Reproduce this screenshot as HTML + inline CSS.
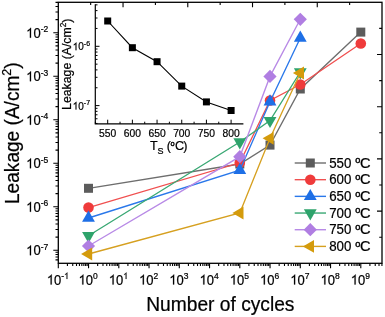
<!DOCTYPE html>
<html><head><meta charset="utf-8"><style>
html,body{margin:0;padding:0;background:#fff;}
svg{display:block;will-change:transform;font-family:"Liberation Sans",sans-serif;}
text{stroke:#000;stroke-width:0.22px;}
</style></head><body>
<svg width="385" height="317" viewBox="0 0 385 317">
<defs><clipPath id="clip"><rect x="58.30" y="2.30" width="323.70" height="261.00"/></clipPath></defs>
<rect x="58.30" y="2.30" width="323.70" height="261.00" fill="none" stroke="#000" stroke-width="1.30"/>
<path d="M58.30 263.30v5.00M67.41 263.30v2.80M72.73 263.30v2.80M76.51 263.30v2.80M79.44 263.30v2.80M81.84 263.30v2.80M83.86 263.30v2.80M85.62 263.30v2.80M87.17 263.30v2.80M88.55 263.30v5.00M97.66 263.30v2.80M102.98 263.30v2.80M106.76 263.30v2.80M109.69 263.30v2.80M112.09 263.30v2.80M114.11 263.30v2.80M115.87 263.30v2.80M117.42 263.30v2.80M118.80 263.30v5.00M127.91 263.30v2.80M133.23 263.30v2.80M137.01 263.30v2.80M139.94 263.30v2.80M142.34 263.30v2.80M144.36 263.30v2.80M146.12 263.30v2.80M147.67 263.30v2.80M149.05 263.30v5.00M158.16 263.30v2.80M163.48 263.30v2.80M167.26 263.30v2.80M170.19 263.30v2.80M172.59 263.30v2.80M174.61 263.30v2.80M176.37 263.30v2.80M177.92 263.30v2.80M179.30 263.30v5.00M188.41 263.30v2.80M193.73 263.30v2.80M197.51 263.30v2.80M200.44 263.30v2.80M202.84 263.30v2.80M204.86 263.30v2.80M206.62 263.30v2.80M208.17 263.30v2.80M209.55 263.30v5.00M218.66 263.30v2.80M223.98 263.30v2.80M227.76 263.30v2.80M230.69 263.30v2.80M233.09 263.30v2.80M235.11 263.30v2.80M236.87 263.30v2.80M238.42 263.30v2.80M239.80 263.30v5.00M248.91 263.30v2.80M254.23 263.30v2.80M258.01 263.30v2.80M260.94 263.30v2.80M263.34 263.30v2.80M265.36 263.30v2.80M267.12 263.30v2.80M268.67 263.30v2.80M270.05 263.30v5.00M279.16 263.30v2.80M284.48 263.30v2.80M288.26 263.30v2.80M291.19 263.30v2.80M293.59 263.30v2.80M295.61 263.30v2.80M297.37 263.30v2.80M298.92 263.30v2.80M300.30 263.30v5.00M309.41 263.30v2.80M314.73 263.30v2.80M318.51 263.30v2.80M321.44 263.30v2.80M323.84 263.30v2.80M325.86 263.30v2.80M327.62 263.30v2.80M329.17 263.30v2.80M330.55 263.30v5.00M339.66 263.30v2.80M344.98 263.30v2.80M348.76 263.30v2.80M351.69 263.30v2.80M354.09 263.30v2.80M356.11 263.30v2.80M357.87 263.30v2.80M359.42 263.30v2.80M360.80 263.30v5.00M369.91 263.30v2.80M375.23 263.30v2.80M379.01 263.30v2.80M381.94 263.30v2.80M58.30 259.90h-2.80M58.30 256.99h-2.80M58.30 254.47h-2.80M58.30 252.24h-2.80M58.30 250.25h-5.00M58.30 237.16h-2.80M58.30 229.50h-2.80M58.30 224.06h-2.80M58.30 219.84h-2.80M58.30 216.40h-2.80M58.30 213.49h-2.80M58.30 210.97h-2.80M58.30 208.74h-2.80M58.30 206.75h-5.00M58.30 193.66h-2.80M58.30 186.00h-2.80M58.30 180.56h-2.80M58.30 176.34h-2.80M58.30 172.90h-2.80M58.30 169.99h-2.80M58.30 167.47h-2.80M58.30 165.24h-2.80M58.30 163.25h-5.00M58.30 150.16h-2.80M58.30 142.50h-2.80M58.30 137.06h-2.80M58.30 132.84h-2.80M58.30 129.40h-2.80M58.30 126.49h-2.80M58.30 123.97h-2.80M58.30 121.74h-2.80M58.30 119.75h-5.00M58.30 106.66h-2.80M58.30 99.00h-2.80M58.30 93.56h-2.80M58.30 89.34h-2.80M58.30 85.90h-2.80M58.30 82.99h-2.80M58.30 80.47h-2.80M58.30 78.24h-2.80M58.30 76.25h-5.00M58.30 63.16h-2.80M58.30 55.50h-2.80M58.30 50.06h-2.80M58.30 45.84h-2.80M58.30 42.40h-2.80M58.30 39.49h-2.80M58.30 36.97h-2.80M58.30 34.74h-2.80M58.30 32.75h-5.00M58.30 19.66h-2.80M58.30 12.00h-2.80M58.30 6.56h-2.80M58.30 2.34h-2.80M90.67 2.30v2.80M123.04 2.30v5.00M155.41 2.30v2.80M187.78 2.30v5.00M220.15 2.30v2.80M252.52 2.30v5.00M284.89 2.30v2.80M317.26 2.30v5.00M349.63 2.30v2.80M382.00 28.40h-2.80M382.00 54.50h-5.00M382.00 80.60h-2.80M382.00 106.70h-5.00M382.00 132.80h-2.80M382.00 158.90h-5.00M382.00 185.00h-2.80M382.00 211.10h-5.00M382.00 237.20h-2.80" stroke="#000" stroke-width="1.1" fill="none"/>
<g transform="translate(46.89,284.50) scale(1,1.070)"><path transform="translate(0.00,0.00) scale(13.000)" d="M0.3726,0L0.2847,0L0.2847,-0.560C0.232,-0.511 0.170,-0.474 0.1089,-0.4536L0.1089,-0.537C0.200,-0.580 0.290,-0.640 0.340,-0.716L0.3726,-0.716Z" stroke="#000" stroke-width="0.22" vector-effect="non-scaling-stroke"/><text x="7.23" y="0.00" font-size="13.00">0</text><text x="14.46" y="-5.10" font-size="8.50">-</text><path transform="translate(17.29,-5.10) scale(8.500)" d="M0.3726,0L0.2847,0L0.2847,-0.560C0.232,-0.511 0.170,-0.474 0.1089,-0.4536L0.1089,-0.537C0.200,-0.580 0.290,-0.640 0.340,-0.716L0.3726,-0.716Z" stroke="#000" stroke-width="0.22" vector-effect="non-scaling-stroke"/></g>
<g transform="translate(78.56,284.50) scale(1,1.070)"><path transform="translate(0.00,0.00) scale(13.000)" d="M0.3726,0L0.2847,0L0.2847,-0.560C0.232,-0.511 0.170,-0.474 0.1089,-0.4536L0.1089,-0.537C0.200,-0.580 0.290,-0.640 0.340,-0.716L0.3726,-0.716Z" stroke="#000" stroke-width="0.22" vector-effect="non-scaling-stroke"/><text x="7.23" y="0.00" font-size="13.00">0</text><text x="14.46" y="-5.10" font-size="8.50">0</text></g>
<g transform="translate(108.81,284.50) scale(1,1.070)"><path transform="translate(0.00,0.00) scale(13.000)" d="M0.3726,0L0.2847,0L0.2847,-0.560C0.232,-0.511 0.170,-0.474 0.1089,-0.4536L0.1089,-0.537C0.200,-0.580 0.290,-0.640 0.340,-0.716L0.3726,-0.716Z" stroke="#000" stroke-width="0.22" vector-effect="non-scaling-stroke"/><text x="7.23" y="0.00" font-size="13.00">0</text><path transform="translate(14.46,-5.10) scale(8.500)" d="M0.3726,0L0.2847,0L0.2847,-0.560C0.232,-0.511 0.170,-0.474 0.1089,-0.4536L0.1089,-0.537C0.200,-0.580 0.290,-0.640 0.340,-0.716L0.3726,-0.716Z" stroke="#000" stroke-width="0.22" vector-effect="non-scaling-stroke"/></g>
<g transform="translate(139.06,284.50) scale(1,1.070)"><path transform="translate(0.00,0.00) scale(13.000)" d="M0.3726,0L0.2847,0L0.2847,-0.560C0.232,-0.511 0.170,-0.474 0.1089,-0.4536L0.1089,-0.537C0.200,-0.580 0.290,-0.640 0.340,-0.716L0.3726,-0.716Z" stroke="#000" stroke-width="0.22" vector-effect="non-scaling-stroke"/><text x="7.23" y="0.00" font-size="13.00">0</text><text x="14.46" y="-5.10" font-size="8.50">2</text></g>
<g transform="translate(169.31,284.50) scale(1,1.070)"><path transform="translate(0.00,0.00) scale(13.000)" d="M0.3726,0L0.2847,0L0.2847,-0.560C0.232,-0.511 0.170,-0.474 0.1089,-0.4536L0.1089,-0.537C0.200,-0.580 0.290,-0.640 0.340,-0.716L0.3726,-0.716Z" stroke="#000" stroke-width="0.22" vector-effect="non-scaling-stroke"/><text x="7.23" y="0.00" font-size="13.00">0</text><text x="14.46" y="-5.10" font-size="8.50">3</text></g>
<g transform="translate(199.56,284.50) scale(1,1.070)"><path transform="translate(0.00,0.00) scale(13.000)" d="M0.3726,0L0.2847,0L0.2847,-0.560C0.232,-0.511 0.170,-0.474 0.1089,-0.4536L0.1089,-0.537C0.200,-0.580 0.290,-0.640 0.340,-0.716L0.3726,-0.716Z" stroke="#000" stroke-width="0.22" vector-effect="non-scaling-stroke"/><text x="7.23" y="0.00" font-size="13.00">0</text><text x="14.46" y="-5.10" font-size="8.50">4</text></g>
<g transform="translate(229.81,284.50) scale(1,1.070)"><path transform="translate(0.00,0.00) scale(13.000)" d="M0.3726,0L0.2847,0L0.2847,-0.560C0.232,-0.511 0.170,-0.474 0.1089,-0.4536L0.1089,-0.537C0.200,-0.580 0.290,-0.640 0.340,-0.716L0.3726,-0.716Z" stroke="#000" stroke-width="0.22" vector-effect="non-scaling-stroke"/><text x="7.23" y="0.00" font-size="13.00">0</text><text x="14.46" y="-5.10" font-size="8.50">5</text></g>
<g transform="translate(260.06,284.50) scale(1,1.070)"><path transform="translate(0.00,0.00) scale(13.000)" d="M0.3726,0L0.2847,0L0.2847,-0.560C0.232,-0.511 0.170,-0.474 0.1089,-0.4536L0.1089,-0.537C0.200,-0.580 0.290,-0.640 0.340,-0.716L0.3726,-0.716Z" stroke="#000" stroke-width="0.22" vector-effect="non-scaling-stroke"/><text x="7.23" y="0.00" font-size="13.00">0</text><text x="14.46" y="-5.10" font-size="8.50">6</text></g>
<g transform="translate(290.31,284.50) scale(1,1.070)"><path transform="translate(0.00,0.00) scale(13.000)" d="M0.3726,0L0.2847,0L0.2847,-0.560C0.232,-0.511 0.170,-0.474 0.1089,-0.4536L0.1089,-0.537C0.200,-0.580 0.290,-0.640 0.340,-0.716L0.3726,-0.716Z" stroke="#000" stroke-width="0.22" vector-effect="non-scaling-stroke"/><text x="7.23" y="0.00" font-size="13.00">0</text><text x="14.46" y="-5.10" font-size="8.50">7</text></g>
<g transform="translate(320.56,284.50) scale(1,1.070)"><path transform="translate(0.00,0.00) scale(13.000)" d="M0.3726,0L0.2847,0L0.2847,-0.560C0.232,-0.511 0.170,-0.474 0.1089,-0.4536L0.1089,-0.537C0.200,-0.580 0.290,-0.640 0.340,-0.716L0.3726,-0.716Z" stroke="#000" stroke-width="0.22" vector-effect="non-scaling-stroke"/><text x="7.23" y="0.00" font-size="13.00">0</text><text x="14.46" y="-5.10" font-size="8.50">8</text></g>
<g transform="translate(350.81,284.50) scale(1,1.070)"><path transform="translate(0.00,0.00) scale(13.000)" d="M0.3726,0L0.2847,0L0.2847,-0.560C0.232,-0.511 0.170,-0.474 0.1089,-0.4536L0.1089,-0.537C0.200,-0.580 0.290,-0.640 0.340,-0.716L0.3726,-0.716Z" stroke="#000" stroke-width="0.22" vector-effect="non-scaling-stroke"/><text x="7.23" y="0.00" font-size="13.00">0</text><text x="14.46" y="-5.10" font-size="8.50">9</text></g>
<g transform="translate(26.19,255.30) scale(1,1.070)"><path transform="translate(0.00,0.00) scale(13.000)" d="M0.3726,0L0.2847,0L0.2847,-0.560C0.232,-0.511 0.170,-0.474 0.1089,-0.4536L0.1089,-0.537C0.200,-0.580 0.290,-0.640 0.340,-0.716L0.3726,-0.716Z" stroke="#000" stroke-width="0.22" vector-effect="non-scaling-stroke"/><text x="7.23" y="0.00" font-size="13.00">0</text><text x="14.46" y="-5.10" font-size="8.50">-7</text></g>
<g transform="translate(26.19,211.80) scale(1,1.070)"><path transform="translate(0.00,0.00) scale(13.000)" d="M0.3726,0L0.2847,0L0.2847,-0.560C0.232,-0.511 0.170,-0.474 0.1089,-0.4536L0.1089,-0.537C0.200,-0.580 0.290,-0.640 0.340,-0.716L0.3726,-0.716Z" stroke="#000" stroke-width="0.22" vector-effect="non-scaling-stroke"/><text x="7.23" y="0.00" font-size="13.00">0</text><text x="14.46" y="-5.10" font-size="8.50">-6</text></g>
<g transform="translate(26.19,168.30) scale(1,1.070)"><path transform="translate(0.00,0.00) scale(13.000)" d="M0.3726,0L0.2847,0L0.2847,-0.560C0.232,-0.511 0.170,-0.474 0.1089,-0.4536L0.1089,-0.537C0.200,-0.580 0.290,-0.640 0.340,-0.716L0.3726,-0.716Z" stroke="#000" stroke-width="0.22" vector-effect="non-scaling-stroke"/><text x="7.23" y="0.00" font-size="13.00">0</text><text x="14.46" y="-5.10" font-size="8.50">-5</text></g>
<g transform="translate(26.19,124.80) scale(1,1.070)"><path transform="translate(0.00,0.00) scale(13.000)" d="M0.3726,0L0.2847,0L0.2847,-0.560C0.232,-0.511 0.170,-0.474 0.1089,-0.4536L0.1089,-0.537C0.200,-0.580 0.290,-0.640 0.340,-0.716L0.3726,-0.716Z" stroke="#000" stroke-width="0.22" vector-effect="non-scaling-stroke"/><text x="7.23" y="0.00" font-size="13.00">0</text><text x="14.46" y="-5.10" font-size="8.50">-4</text></g>
<g transform="translate(26.19,81.30) scale(1,1.070)"><path transform="translate(0.00,0.00) scale(13.000)" d="M0.3726,0L0.2847,0L0.2847,-0.560C0.232,-0.511 0.170,-0.474 0.1089,-0.4536L0.1089,-0.537C0.200,-0.580 0.290,-0.640 0.340,-0.716L0.3726,-0.716Z" stroke="#000" stroke-width="0.22" vector-effect="non-scaling-stroke"/><text x="7.23" y="0.00" font-size="13.00">0</text><text x="14.46" y="-5.10" font-size="8.50">-3</text></g>
<g transform="translate(26.19,37.80) scale(1,1.070)"><path transform="translate(0.00,0.00) scale(13.000)" d="M0.3726,0L0.2847,0L0.2847,-0.560C0.232,-0.511 0.170,-0.474 0.1089,-0.4536L0.1089,-0.537C0.200,-0.580 0.290,-0.640 0.340,-0.716L0.3726,-0.716Z" stroke="#000" stroke-width="0.22" vector-effect="non-scaling-stroke"/><text x="7.23" y="0.00" font-size="13.00">0</text><text x="14.46" y="-5.10" font-size="8.50">-2</text></g>
<g transform="translate(146.2,311) scale(1,1.070)"><text x="0" y="0" font-size="19.2">Number of cycles</text></g>
<g transform="translate(19.0,204) rotate(-90) scale(1,1.070)"><text x="0" y="0" font-size="19.1">Leakage (A/cm<tspan font-size="12.5" dy="-7.5">2</tspan><tspan dy="7.5">)</tspan></text></g>
<g clip-path="url(#clip)">
<polyline points="88.50,188.30 239.80,164.00 270.00,145.10 300.30,89.00 360.80,32.10" fill="none" stroke="#6e6e6e" stroke-width="1.35"/>
<rect x="84.00" y="183.80" width="9.00" height="9.00" fill="#5c5c5c"/>
<rect x="235.30" y="159.50" width="9.00" height="9.00" fill="#5c5c5c"/>
<rect x="265.50" y="140.60" width="9.00" height="9.00" fill="#5c5c5c"/>
<rect x="295.80" y="84.50" width="9.00" height="9.00" fill="#5c5c5c"/>
<rect x="356.30" y="27.60" width="9.00" height="9.00" fill="#5c5c5c"/>
<polyline points="88.50,207.60 239.80,162.80 270.00,100.50 300.30,84.50 360.80,43.50" fill="none" stroke="#f05050" stroke-width="1.35"/>
<circle cx="88.50" cy="207.60" r="5.3" fill="#ef3b3b"/>
<circle cx="239.80" cy="162.80" r="5.3" fill="#ef3b3b"/>
<circle cx="270.00" cy="100.50" r="5.3" fill="#ef3b3b"/>
<circle cx="300.30" cy="84.50" r="5.3" fill="#ef3b3b"/>
<circle cx="360.80" cy="43.50" r="5.3" fill="#ef3b3b"/>
<polyline points="88.50,218.00 239.80,170.20 270.00,101.70 300.30,38.00" fill="none" stroke="#2a78ea" stroke-width="1.35"/>
<polygon points="88.50,210.60 82.09,221.70 94.91,221.70" fill="#1e6fe6"/>
<polygon points="239.80,162.80 233.39,173.90 246.21,173.90" fill="#1e6fe6"/>
<polygon points="270.00,94.30 263.59,105.40 276.41,105.40" fill="#1e6fe6"/>
<polygon points="300.30,30.60 293.89,41.70 306.71,41.70" fill="#1e6fe6"/>
<polyline points="88.50,235.80 239.80,142.00 270.00,120.60 300.30,72.00" fill="none" stroke="#3aa874" stroke-width="1.35"/>
<polygon points="88.50,243.20 82.09,232.10 94.91,232.10" fill="#2ea36b"/>
<polygon points="239.80,149.40 233.39,138.30 246.21,138.30" fill="#2ea36b"/>
<polygon points="270.00,128.00 263.59,116.90 276.41,116.90" fill="#2ea36b"/>
<polygon points="300.30,79.40 293.89,68.30 306.71,68.30" fill="#2ea36b"/>
<polyline points="88.50,246.00 239.80,156.70 270.00,76.40 300.30,19.30" fill="none" stroke="#b88ae6" stroke-width="1.35"/>
<polygon points="88.50,239.40 95.10,246.00 88.50,252.60 81.90,246.00" fill="#b07ee2"/>
<polygon points="239.80,150.10 246.40,156.70 239.80,163.30 233.20,156.70" fill="#b07ee2"/>
<polygon points="270.00,69.80 276.60,76.40 270.00,83.00 263.40,76.40" fill="#b07ee2"/>
<polygon points="300.30,12.70 306.90,19.30 300.30,25.90 293.70,19.30" fill="#b07ee2"/>
<polyline points="88.50,254.00 239.80,213.00 270.00,138.30 300.30,73.00" fill="none" stroke="#d6a020" stroke-width="1.35"/>
<polygon points="81.10,254.00 92.20,247.59 92.20,260.41" fill="#d49b0c"/>
<polygon points="232.40,213.00 243.50,206.59 243.50,219.41" fill="#d49b0c"/>
<polygon points="262.60,138.30 273.70,131.89 273.70,144.71" fill="#d49b0c"/>
<polygon points="292.90,73.00 304.00,66.59 304.00,79.41" fill="#d49b0c"/>
</g>
<line x1="294.7" y1="163.00" x2="326" y2="163.00" stroke="#6e6e6e" stroke-width="1.4"/>
<rect x="305.80" y="158.50" width="9.00" height="9.00" fill="#5c5c5c"/>
<g transform="translate(329.2,167.60) scale(1,1.070)"><text x="0" y="0" font-size="13.30">550 </text><text transform="translate(30.90,0) scale(1.1,1)" x="0" y="0" font-size="13.30">C</text></g>
<text x="355.2" y="163.40" font-size="9.2" style="stroke-width:0.45px">o</text>
<line x1="294.7" y1="179.68" x2="326" y2="179.68" stroke="#f05050" stroke-width="1.4"/>
<circle cx="310.30" cy="179.68" r="5.3" fill="#ef3b3b"/>
<g transform="translate(329.2,184.28) scale(1,1.070)"><text x="0" y="0" font-size="13.30">600 </text><text transform="translate(30.90,0) scale(1.1,1)" x="0" y="0" font-size="13.30">C</text></g>
<text x="355.2" y="180.08" font-size="9.2" style="stroke-width:0.45px">o</text>
<line x1="294.7" y1="196.36" x2="326" y2="196.36" stroke="#2a78ea" stroke-width="1.4"/>
<polygon points="310.30,188.96 303.89,200.06 316.71,200.06" fill="#1e6fe6"/>
<g transform="translate(329.2,200.96) scale(1,1.070)"><text x="0" y="0" font-size="13.30">650 </text><text transform="translate(30.90,0) scale(1.1,1)" x="0" y="0" font-size="13.30">C</text></g>
<text x="355.2" y="196.76" font-size="9.2" style="stroke-width:0.45px">o</text>
<line x1="294.7" y1="213.04" x2="326" y2="213.04" stroke="#3aa874" stroke-width="1.4"/>
<polygon points="310.30,220.44 303.89,209.34 316.71,209.34" fill="#2ea36b"/>
<g transform="translate(329.2,217.64) scale(1,1.070)"><text x="0" y="0" font-size="13.30">700 </text><text transform="translate(30.90,0) scale(1.1,1)" x="0" y="0" font-size="13.30">C</text></g>
<text x="355.2" y="213.44" font-size="9.2" style="stroke-width:0.45px">o</text>
<line x1="294.7" y1="229.72" x2="326" y2="229.72" stroke="#b88ae6" stroke-width="1.4"/>
<polygon points="310.30,223.12 316.90,229.72 310.30,236.32 303.70,229.72" fill="#b07ee2"/>
<g transform="translate(329.2,234.32) scale(1,1.070)"><text x="0" y="0" font-size="13.30">750 </text><text transform="translate(30.90,0) scale(1.1,1)" x="0" y="0" font-size="13.30">C</text></g>
<text x="355.2" y="230.12" font-size="9.2" style="stroke-width:0.45px">o</text>
<line x1="294.7" y1="246.40" x2="326" y2="246.40" stroke="#d6a020" stroke-width="1.4"/>
<polygon points="302.90,246.40 314.00,239.99 314.00,252.81" fill="#d49b0c"/>
<g transform="translate(329.2,251.00) scale(1,1.070)"><text x="0" y="0" font-size="13.30">800 </text><text transform="translate(30.90,0) scale(1.1,1)" x="0" y="0" font-size="13.30">C</text></g>
<text x="355.2" y="246.80" font-size="9.2" style="stroke-width:0.45px">o</text>
<path d="M95.30 4.30V123.90H243.40" fill="none" stroke="#000" stroke-width="1.2"/>
<path d="M107.70 123.90v-4.2M132.38 123.90v-4.2M157.06 123.90v-4.2M181.74 123.90v-4.2M206.42 123.90v-4.2M231.10 123.90v-4.2M95.36 123.90v-2.2M120.04 123.90v-2.2M144.72 123.90v-2.2M169.40 123.90v-2.2M194.08 123.90v-2.2M218.76 123.90v-2.2M95.30 46.30h4.2M95.30 105.60h4.2M95.30 123.45h2.2M95.30 118.76h2.2M95.30 114.79h2.2M95.30 111.35h2.2M95.30 108.31h2.2M95.30 87.75h2.2M95.30 77.31h2.2M95.30 69.90h2.2M95.30 64.15h2.2M95.30 59.46h2.2M95.30 55.49h2.2M95.30 52.05h2.2M95.30 49.01h2.2M95.30 28.45h2.2M95.30 18.01h2.2M95.30 10.60h2.2M95.30 4.85h2.2" stroke="#000" stroke-width="1" fill="none"/>
<text x="107.70" y="136.6" font-size="10.3" text-anchor="middle">550</text>
<text x="132.38" y="136.6" font-size="10.3" text-anchor="middle">600</text>
<text x="157.06" y="136.6" font-size="10.3" text-anchor="middle">650</text>
<text x="181.74" y="136.6" font-size="10.3" text-anchor="middle">700</text>
<text x="206.42" y="136.6" font-size="10.3" text-anchor="middle">750</text>
<text x="231.10" y="136.6" font-size="10.3" text-anchor="middle">800</text>
<g transform="translate(72.70,50.20) scale(1,1.070)"><path transform="translate(0.00,0.00) scale(10.000)" d="M0.3726,0L0.2847,0L0.2847,-0.560C0.232,-0.511 0.170,-0.474 0.1089,-0.4536L0.1089,-0.537C0.200,-0.580 0.290,-0.640 0.340,-0.716L0.3726,-0.716Z" stroke="#000" stroke-width="0.22" vector-effect="non-scaling-stroke"/><text x="5.56" y="0.00" font-size="10.00">0</text><text x="11.12" y="-3.90" font-size="7.00">-6</text></g>
<g transform="translate(72.70,109.50) scale(1,1.070)"><path transform="translate(0.00,0.00) scale(10.000)" d="M0.3726,0L0.2847,0L0.2847,-0.560C0.232,-0.511 0.170,-0.474 0.1089,-0.4536L0.1089,-0.537C0.200,-0.580 0.290,-0.640 0.340,-0.716L0.3726,-0.716Z" stroke="#000" stroke-width="0.22" vector-effect="non-scaling-stroke"/><text x="5.56" y="0.00" font-size="10.00">0</text><text x="11.12" y="-3.90" font-size="7.00">-7</text></g>
<g transform="translate(150.0,149.90) scale(1,1.070)"><text x="0" y="0" font-size="12.6">T</text><text x="7.6" y="3.4" font-size="9">S</text><text x="16.8" y="0" font-size="12.6">(</text><text x="24.9" y="0" font-size="12.6">C</text><text x="33.2" y="0" font-size="12.6">)</text></g>
<text x="170.4" y="146.0" font-size="7.4" style="stroke-width:0.4px">o</text>
<g transform="translate(71.3,109.9) rotate(-90) scale(1,1.070)"><text x="0" y="0" font-size="12.3">Leakage (A/cm<tspan font-size="8.2" dy="-4.9">2</tspan><tspan dy="4.9">)</tspan></text></g>
<polyline points="107.70,21.00 132.38,47.70 157.06,61.70 181.74,86.10 206.42,101.90 231.10,110.50" fill="none" stroke="#000" stroke-width="1.1"/>
<rect x="104.20" y="17.50" width="7" height="7" fill="#000"/>
<rect x="128.88" y="44.20" width="7" height="7" fill="#000"/>
<rect x="153.56" y="58.20" width="7" height="7" fill="#000"/>
<rect x="178.24" y="82.60" width="7" height="7" fill="#000"/>
<rect x="202.92" y="98.40" width="7" height="7" fill="#000"/>
<rect x="227.60" y="107.00" width="7" height="7" fill="#000"/>
</svg></body></html>
